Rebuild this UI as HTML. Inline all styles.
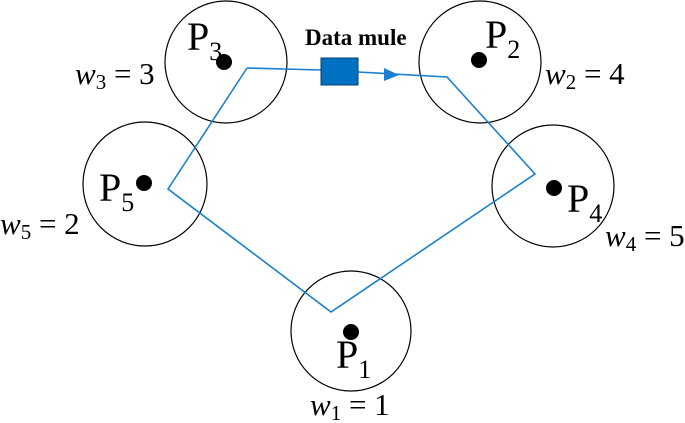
<!DOCTYPE html>
<html><head><style>html,body{margin:0;padding:0;background:#fff}svg{display:block}</style></head>
<body>
<svg width="685" height="423" viewBox="0 0 685 423" xmlns="http://www.w3.org/2000/svg" font-family="Liberation Serif, serif">
<g fill="none" stroke="#000" stroke-width="1.2">
<circle cx="226" cy="62" r="61"/>
<circle cx="480" cy="62" r="61"/>
<ellipse cx="145" cy="184" rx="62" ry="62"/>
<ellipse cx="553" cy="186" rx="61" ry="61"/>
<ellipse cx="351" cy="331" rx="60" ry="60"/>
</g>
<g fill="#000">
<circle cx="224" cy="62" r="8"/>
<circle cx="479" cy="60" r="8"/>
<circle cx="144" cy="183" r="8"/>
<circle cx="554" cy="188" r="8"/>
<circle cx="351" cy="332" r="8"/>
</g>
<polyline points="247,68 168,189 331,312 535,174 447,77 358,72" fill="none" stroke="#1a7fd0" stroke-width="1.6"/>
<line x1="247" y1="68" x2="321" y2="70" stroke="#1a7fd0" stroke-width="1.6"/>
<polygon points="384,68 399,75 384,81" fill="#1a7fd0"/>
<rect x="321" y="58" width="37" height="27" fill="#0070c0" stroke="#0a3d6b" stroke-width="1"/>
<text x="305" y="45" font-size="23" font-weight="bold">Data mule</text>
<g font-size="40">
<text x="187" y="50">P<tspan font-size="26" dy="10">3</tspan></text>
<text x="485" y="48">P<tspan font-size="26" dy="10">2</tspan></text>
<text x="99" y="201">P<tspan font-size="26" dy="10">5</tspan></text>
<text x="567" y="212">P<tspan font-size="26" dy="10">4</tspan></text>
<text x="336" y="368">P<tspan font-size="26" dy="10">1</tspan></text>
</g>
<g font-size="31">
<text x="75" y="84"><tspan font-style="italic">w</tspan><tspan font-size="21" dy="5">3</tspan><tspan dy="-5"> = 3</tspan></text>
<text x="545" y="84"><tspan font-style="italic">w</tspan><tspan font-size="21" dy="5">2</tspan><tspan dy="-5"> = 4</tspan></text>
<text x="0" y="234"><tspan font-style="italic">w</tspan><tspan font-size="21" dy="5">5</tspan><tspan dy="-5"> = 2</tspan></text>
<text x="605" y="246"><tspan font-style="italic">w</tspan><tspan font-size="21" dy="5">4</tspan><tspan dy="-5"> = 5</tspan></text>
<text x="310" y="415"><tspan font-style="italic">w</tspan><tspan font-size="21" dy="5">1</tspan><tspan dy="-5"> = 1</tspan></text>
</g>
</svg>
</body></html>
